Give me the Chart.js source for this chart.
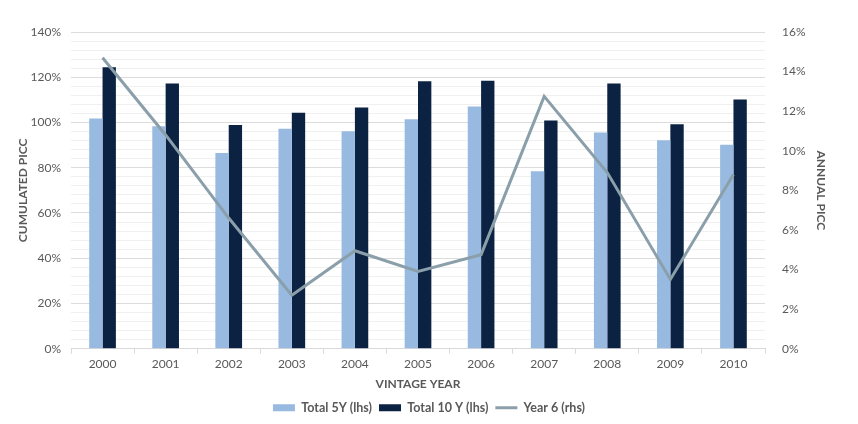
<!DOCTYPE html>
<html>
<head>
<meta charset="utf-8">
<script src="https://cdn.jsdelivr.net/npm/chart.js@4.4.1/dist/chart.umd.min.js"></script>
<style>
  html, body { margin: 0; padding: 0; background: #fff; }
  #wrap { width: 858px; height: 424px; }
</style>
</head>
<body>
<div id="wrap"><canvas id="picc"></canvas></div>
<script>
// vintage years and values
const years = ['2000','2001','2002','2003','2004','2005','2006','2007','2008','2009','2010'];
const total5Y = [101.8, 98.3, 86.5, 97.2, 96.1, 101.4, 107.1, 78.4, 95.6, 92.2, 90.2];
const total10Y = [124.4, 117.2, 98.9, 104.3, 106.6, 118.2, 118.5, 100.9, 117.2, 99.2, 110.2];
const year6 = [14.7, 10.8, 6.6, 2.7, 4.95, 3.9, 4.75, 12.75, 8.9, 3.5, 8.8];

const grey = '#595959';
const fontFam = 'Lato, "Open Sans", sans-serif';
Chart.defaults.font.family = fontFam;
Chart.defaults.color = grey;

let ctx = document.getElementById('picc');
let myChart = new Chart(ctx, {
  type: 'bar',
  data: {
    labels: years,
    datasets: [
      {
        label: 'Total 5Y (lhs)',
        data: total5Y,
        backgroundColor: '#98BAE0',
        borderWidth: 0,
        yAxisID: 'yL',
        order: 2,
        categoryPercentage: 0.423,
        barPercentage: 1.0
      },
      {
        label: 'Total 10 Y (lhs)',
        data: total10Y,
        backgroundColor: '#0B2242',
        borderWidth: 0,
        yAxisID: 'yL',
        order: 2,
        categoryPercentage: 0.423,
        barPercentage: 1.0
      },
      {
        type: 'line',
        label: 'Year 6 (rhs)',
        data: year6,
        borderColor: '#8A9FA9',
        backgroundColor: '#8A9FA9',
        borderWidth: 3,
        pointRadius: 0,
        tension: 0,
        yAxisID: 'yR',
        order: 1
      }
    ]
  },
  options: {
    responsive: true,
    maintainAspectRatio: false,
    animation: false,
    layout: { padding: { left: 20, right: 20, top: 32, bottom: 0 } },
    plugins: {
      tooltip: { enabled: false },
      legend: {
        display: true,
        position: 'bottom',
        labels: {
          usePointStyle: true,
          pointStyleWidth: 22,
          boxHeight: 7,
          padding: 7,
          color: grey,
          font: { size: 12.5, weight: 'bold' },
          sort: (a, b) => a.datasetIndex - b.datasetIndex,
          generateLabels: function (chart) {
            const items = Chart.defaults.plugins.legend.labels.generateLabels(chart);
            items.forEach((it) => {
              it.pointStyle = it.datasetIndex === 2 ? 'line' : 'rect';
              if (it.datasetIndex !== 2) { it.lineWidth = 0; }
            });
            return items;
          }
        }
      }
    },
    scales: {
      x: {
        offset: true,
        grid: {
          offset: true,
          drawOnChartArea: false,
          drawTicks: true,
          tickLength: 5,
          color: '#d9d9d9'
        },
        border: { color: '#d9d9d9' },
        ticks: { font: { size: 12 }, color: grey, padding: 3 },
        title: {
          display: true,
          text: 'VINTAGE YEAR',
          font: { size: 12, weight: 'bold' },
          color: grey,
          padding: { top: 3, bottom: 3 }
        }
      },
      yL: {
        position: 'left',
        min: 0,
        max: 140,
        ticks: {
          stepSize: 4,
          autoSkip: false,
          font: { size: 12 },
          color: grey,
          padding: 10,
          callback: (v) => (v % 20 === 0 ? v + '%' : '')
        },
        grid: {
          drawTicks: false,
          color: (c) => (c.tick && c.tick.value % 20 === 0 ? '#dcdcdc' : '#f0f0f0')
        },
        border: { display: false },
        title: {
          display: true,
          text: 'CUMULATED PICC',
          font: { size: 12, weight: 'bold' },
          color: grey,
          padding: { top: -4, bottom: 0 }
        },
        afterFit: (scale) => { scale.width = 51; }
      },
      yR: {
        position: 'right',
        min: 0,
        max: 16,
        ticks: {
          stepSize: 2,
          font: { size: 12 },
          color: grey,
          padding: 9,
          callback: (v) => v + '%'
        },
        grid: { display: false, drawOnChartArea: false },
        border: { display: false },
        title: {
          display: true,
          text: 'ANNUAL PICC',
          font: { size: 12, weight: 'bold' },
          color: grey,
          padding: { top: 10, bottom: 0 }
        },
        afterFit: (scale) => { scale.width = 73; }
      }
    }
  }
});
</script>
</body>
</html>
